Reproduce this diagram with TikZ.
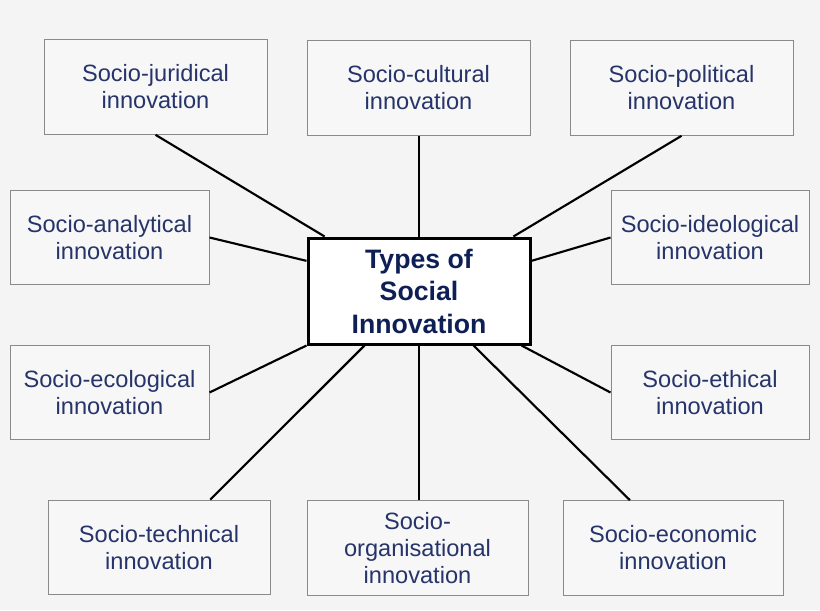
\documentclass[tikz,border=0pt]{standalone}
\usepackage{fontspec}
\setmainfont{Liberation Sans}
\definecolor{bgcol}{HTML}{F4F4F4}
\definecolor{boxfill}{HTML}{F7F7F7}
\definecolor{boxline}{HTML}{8A8A8A}
\definecolor{boxtext}{HTML}{26346A}
\definecolor{hubtext}{HTML}{0E1F55}
\begin{document}
\begin{tikzpicture}[x=0.75pt,y=0.75pt,yscale=-1,xscale=1,
  typebox/.style={draw=boxline, fill=boxfill, line width=0.75pt, text=boxtext, align=center, inner sep=0pt, minimum height=71pt, font=\fontsize{17.7}{20.25}\selectfont},
  hubbox/.style={draw=black, fill=white, line width=2.25pt, text=hubtext, align=center, inner sep=0pt, minimum width=166.5pt, minimum height=79.5pt, font=\bfseries\fontsize{20}{24.4}\selectfont},
  spoke/.style={line width=1.6pt}]
			%set diagram size 820 x 610
			\useasboundingbox (0,0) rectangle (820,610);
			\fill [bgcol] (0,0) rectangle (820,610);

			%Shape: Rectangle (centre)
			\node [hubbox] (hub) at (419,291) {Types of\\Social\\Innovation};

			%Shape: Rectangle (top row)
			\node [typebox, minimum width=167.25pt] (jur) at (155.5,87) {Socio-juridical\\innovation};
			\node [typebox, minimum width=167.25pt] (cul) at (418.5,88) {Socio-cultural\\innovation};
			\node [typebox, minimum width=167.25pt] (pol) at (681.5,88) {Socio-political\\innovation};
			%Shape: Rectangle (sides)
			\node [typebox, minimum width=149.25pt] (ana) at (109.5,237.5) {Socio-analytical\\innovation};
			\node [typebox, minimum width=148.5pt] (ide) at (710,237.5) {Socio-ideological\\innovation};
			\node [typebox, minimum width=149.25pt] (eco) at (109.5,392.5) {Socio-ecological\\innovation};
			\node [typebox, minimum width=148.5pt] (eth) at (710,392.5) {Socio-ethical\\innovation};
			%Shape: Rectangle (bottom row)
			\node [typebox, minimum width=166.5pt] (tec) at (159,547.5) {Socio-technical\\innovation};
			\node [typebox, minimum width=165.75pt] (org) at (417.5,548) {Socio-\\organisational\\innovation};
			\node [typebox, minimum width=165pt] (econ) at (673,548) {Socio-economic\\innovation};

			%Straight Lines
			\draw [spoke] (hub.150) -- (jur.south);
			\draw [spoke] (hub.north) -- (hub.north |- cul.south);
			\draw [spoke] (hub.30) -- (pol.south);
			\draw [spoke] (hub.165.5) -- (ana.east);
			\draw [spoke] (hub.15) -- (ide.west);
			\draw [spoke] (hub.south west) -- (eco.east);
			\draw [spoke] (hub.-28) -- (eth.west);
			\draw [spoke] (hub.225) -- (tec.43);
			\draw [spoke] (hub.south) -- (hub.south |- org.north);
			\draw [spoke] (hub.315) -- (econ.132.5);

		\end{tikzpicture}
\end{document}
